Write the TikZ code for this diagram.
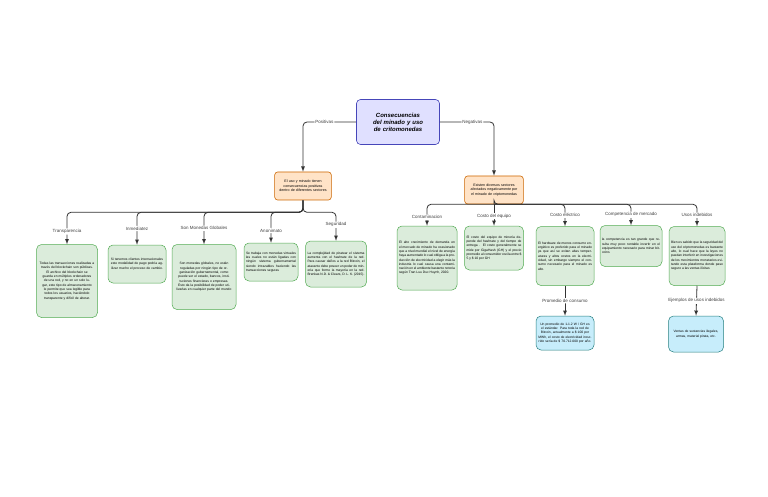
\documentclass[tikz,border=0pt]{standalone}
\usepackage{fontspec}
\setmainfont{Liberation Sans}
\begin{document}
\begin{tikzpicture}[x=1pt,y=-1pt,
  title/.style={draw=blue!45!gray,fill=blue!12,rounded corners=4pt,line width=0.6pt,minimum width=83pt,minimum height=45pt,text width=70pt,align=center,font=\fontsize{6}{7}\selectfont\bfseries\itshape},
  mid/.style={draw=orange!80!black,fill=orange!22,rounded corners=3pt,line width=0.6pt,minimum height=28pt,align=center,font=\fontsize{3.6}{4.6}\selectfont},
  leaf/.style={draw=green!35!gray,fill=green!12!gray!15,fill=green!8!white!85!gray,rounded corners=5pt,line width=0.5pt,align=justify,font=\fontsize{3.3}{4.3}\selectfont,inner sep=2pt},
  cyanbox/.style={draw=teal!70!gray,fill=cyan!22,rounded corners=5pt,line width=0.5pt,align=center,font=\fontsize{3.3}{4.3}\selectfont,inner sep=2pt},
  edge/.style={draw=black!80,line width=0.8pt,rounded corners=4pt,-latex},
  lab/.style={fill=white,inner sep=1pt,font=\fontsize{4.5}{5}\selectfont,text=black!75}]
\useasboundingbox[fill=white] (0,0) rectangle (768,497);
\node[title] (t) at (398,122) {Consecuencias del minado y uso de critomonedas};
\node[mid,text width=50pt] (p) at (303,186) {El uso y minado tienen consecuencias positivas dentro de diferentes sectores};
\node[mid,text width=52pt] (n) at (494,190) {Existen diversos sectores afectados negativamente por el minado de criptomonedas};
% positive leaves
\node[leaf,text width=57pt,minimum height=73pt,align=center] (a1) at (67,281) {Todas las transacciones realizadas a través del blockchain son públicas.\\ El archivo del blockchain se guarda en múltiples ordenadores de una red, y no en un solo lugar, este tipo de almacenamiento le permite que sea legible para todos los usuarios, haciéndolo transparente y difícil de alterar.};
\node[leaf,text width=54pt,minimum height=38pt,align=center] (a2) at (137,264) {Si tenemos clientes internacionales este modalidad de pago podría agilizar mucho el proceso de cambio.};
\node[leaf,text width=60pt,minimum height=65pt,align=center] (a3) at (204,277) {Son monedas globales, no están reguladas por ningún tipo de organización gubernamental, como puede ser el estado, bancos, instituciones financieras o empresas.\\ Esto da la posibilidad de poder utilizarlas en cualquier parte del mundo};
\node[leaf,text width=50pt,minimum height=38pt] (a4) at (271,262) {Se trabaja con monedas virtuales las cuales no están ligadas con ningún sistema gubernamental siendo intrazables haciendo las transacciones seguras};
\node[leaf,text width=57pt,minimum height=46pt] (a5) at (336,264) {La complejidad de piratear el sistema aumenta con el hashrate de la red. Para causar daños a la red Bitcoin, el atacante debe poseer un poder de minería que forme la mayoría en la red. Brenkas N.D. \& Clears, D. L. K. (2015).};
% negative leaves
\node[leaf,text width=56pt,minimum height=64pt] (b1) at (427,258) {El alto crecimiento de demanda en el mercado de minado ha ocasionado que a nivel mundial el nivel de energía haya aumentado lo cual obliga a la producción de electricidad a elegir más la industria lo cual causa una contaminación en el ambiente bastante notoria según Tran Luu Duc Huynh, 2020.};
\node[leaf,text width=55pt,minimum height=44pt] (b2) at (494,248) {El costo del equipo de minería depende del hashrate y del tiempo de entrega . El costo generalmente se mide por GigaHash (GH) y el precio promedio al consumidor oscila entre \$ 5 y \$ 10 por GH};
\node[leaf,text width=54pt,minimum height=59pt] (b3) at (565,256) {El hardware de menos consumo energético es preferido para el minado ya que así se evitan altas temperaturas y altos costos en la electricidad, sin embargo siempre el consumo necesario para el minado es alto.};
\node[leaf,text width=58pt,minimum height=41pt] (b4) at (631,246) {la competencia es tan grande que resulta muy poco rentable invertir en el equipamiento necesario para minar bitcoins};
\node[leaf,text width=52pt,minimum height=59pt] (b5) at (697,256) {Bien es sabido que la seguridad del uso del criptomonedas es bastante alto, lo cual hace que la leyes no puedan interferir en investigaciones de los movimientos monetarios evitando esta plataforma donde paso seguro a las ventas ilícitas};
\node[cyanbox,text width=54pt,minimum height=34pt] (c1) at (565,333) {Un promedio de 1-1.2 W / GH es el estándar. Para toda la red de Bitcoin, actualmente a \$ 100 por MWh, el costo de electricidad incurrido sería de \$ 70.712.000 por año.};
\node[cyanbox,text width=51pt,minimum height=36pt] (c2) at (696,334) {Ventas de sustancias ilegales, armas, material pirata, etc.};
% edges
\draw[edge] (t.west) -| node[lab,pos=0.3]{Positivas} (p.north);
\draw[edge] (t.east) -| node[lab,pos=0.3]{Negativas} (n.north);
\draw[edge] (p.south) -- ++(0,12) -| node[lab,pos=0.8]{Transparencia} (a1.north);
\draw[edge] (p.south) -- ++(0,12) -| node[lab,pos=0.75]{Inmediatez} (a2.north);
\draw[edge] (p.south) -- ++(0,12) -| node[lab,pos=0.75]{Son Monedas Globales} (a3.north);
\draw[edge] (p.south) -- ++(0,12) -| node[lab,pos=0.8]{Anonimato} (a4.north);
\draw[edge] (p.south) -- ++(0,12) -| node[lab,pos=0.72]{Seguridad} (a5.north);
\draw[edge] (n.south) -| node[lab,pos=0.8]{Contaminacion} (b1.north);
\draw[edge] (n.south) -- (b2.north) node[lab,pos=0.55]{Costo del equipo};
\draw[edge] (n.south) -- ++(0,0) -| node[lab,pos=0.75]{Costo eléctrico} (b3.north);
\draw[edge] (n.south) -| node[lab,pos=0.75]{Competencia de mercado} (b4.north);
\draw[edge] (n.south) -| node[lab,pos=0.75]{Usos indebidos} (b5.north);
\draw[edge] (b3.south) -- node[lab]{Promedio de consumo} (c1.north);
\draw[edge] (b5.south) -- node[lab]{Ejemplos de usos indebidos} (c2.north);
\end{tikzpicture}
\end{document}
